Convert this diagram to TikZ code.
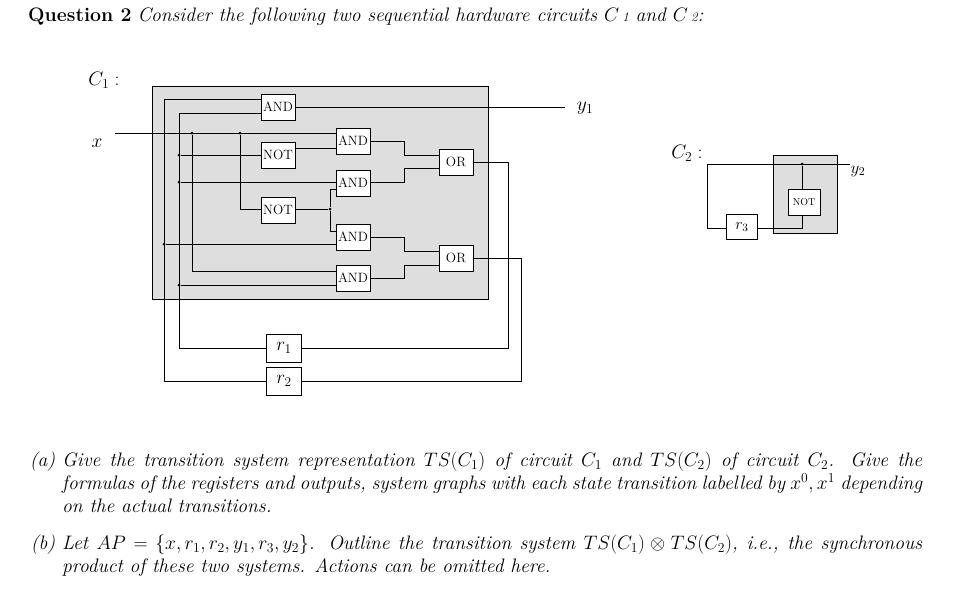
\RequirePackage{fix-cm}
\documentclass[tikz,border=0pt]{standalone}
\usepackage{amsmath,amssymb}
\begin{document}
\begin{tikzpicture}[x=1pt,y=-1pt,
 gate/.style={draw,fill=white,inner sep=0pt,minimum width=34pt,minimum height=26pt,font=\fontsize{13.5}{14}\selectfont},
 reg/.style={draw,fill=white,inner sep=0pt,minimum width=35pt,minimum height=28pt,font=\fontsize{19}{20}\selectfont},
 w/.style={draw,line width=0.6pt},
 dot/.style={circle,fill,inner sep=0pt,minimum size=3pt},
 para/.style={anchor=north west,text width=860pt,align=justify,font=\fontsize{19.5}{23}\selectfont\itshape}]
\useasboundingbox (0,0) rectangle (963,592);
\node[anchor=west,font=\fontsize{19.5}{22}\selectfont,inner sep=0pt] (title) at (28,17) {\textbf{Question 2} \textit{Consider the following two sequential hardware circuits $C$\,{\fontsize{13}{14}\selectfont 1} and $C$\,{\fontsize{13}{14}\selectfont 2}:}};
% C1
\node[font=\fontsize{19.5}{22}\selectfont] (c1) at (104,80) {$C_1:$};
\node[draw,fill=black!13,minimum width=336pt,minimum height=213pt,inner sep=0pt] (box1) at (320,192.5) {};
\node[font=\fontsize{19.5}{22}\selectfont] (x) at (97,143) {$x$};
\node[gate] (and1) at (278,107) {AND};
\node[gate] (not1) at (278,155) {NOT};
\node[gate] (not2) at (278,210) {NOT};
\node[gate] (and2) at (353,141) {AND};
\node[gate] (and3) at (353,183) {AND};
\node[gate] (and4) at (353,237) {AND};
\node[gate] (and5) at (353,278) {AND};
\node[gate] (or1) at (456,162) {OR};
\node[gate] (or2) at (456,258) {OR};
\node[reg] (r1) at (284,348) {$r_1$};
\node[reg] (r2) at (284,381) {$r_2$};
\node[font=\fontsize{19.5}{22}\selectfont] (y1) at (585,108) {$y_1$};
\coordinate (xs) at (115,133);
\node[dot] (d1) at (192,133) {};
\node[dot] (d2) at (240,133) {};
\node[dot] (d3) at (179,155) {};
\node[dot] (d4) at (179,182) {};
\node[dot] (d5) at (179,285) {};
\node[dot] (d6) at (164,244) {};
\node[dot] (d7) at (330,209) {};
% wires
\draw[w] (xs) -- (337,133);
\draw[w] (and1.east) -- (565,107);
\draw[w] (d1) -- (192,271) -- (337,271);
\draw[w] (d2) -- (240,209) -- (not2.west |- 0,209);
\draw[w] (not1.west |- 0,155) -- (d3);
\draw[w] (not1.east |- 0,148) -- (337,148);
\draw[w] (d4) -- (337,182);
\draw[w] (d5) -- (337,285);
\draw[w] (d6) -- (337,244);
\draw[w] (not2.east |- 0,209) -- (d7);
\draw[w] (337,189) -- (330,189) -- (d7) -- (330,231) -- (337,231);
\draw[w] (and2.east) -- (404,141) -- (404,155) -- (439,155);
\draw[w] (and3.east |- 0,182) -- (404,182) -- (404,168) -- (439,168);
\draw[w] (and4.east) -- (404,237) -- (404,251) -- (439,251);
\draw[w] (and5.east) -- (404,278) -- (404,265) -- (439,265);
\draw[w] (or1.east) -- (508,162) -- (508,348) -- (r1.east);
\draw[w] (or2.east) -- (521,258) -- (521,381) -- (r2.east);
\draw[w] (r1.west) -- (179,348) -- (179,113) -- (261,113);
\draw[w] (r2.west) -- (164,381) -- (164,99) -- (261,99);
% C2
\node[font=\fontsize{19.5}{22}\selectfont] (c2) at (687,153) {$C_2:$};
\node[draw,fill=black!13,minimum width=64pt,minimum height=78pt,inner sep=0pt] (box2) at (805,194) {};
\node[gate,minimum width=32pt,minimum height=26pt,font=\fontsize{10}{11}\selectfont] (not3) at (804,202) {NOT};
\node[reg,minimum width=31pt,minimum height=25pt,font=\fontsize{16}{17}\selectfont] (r3) at (742,227) {$r_3$};
\node[dot] (d8) at (802,164) {};
\node[font=\fontsize{17}{18}\selectfont] (y2) at (858,171) {$y_2$};
\draw[w] (707,164) -- (850,164);
\draw[w] (d8) -- (802,189);
\draw[w] (802,215) -- (802,228) -- (r3.east |- 0,228);
\draw[w] (r3.west |- 0,228) -- (707,228) -- (707,164);
% text
\node[para,inner sep=0pt] (qa) at (62,452) {\makebox[0pt][r]{(a)\hspace{7pt}}Give the transition system representation $TS(C_1)$ of circuit $C_1$ and $TS(C_2)$ of circuit $C_2$. Give the formulas of the registers and outputs, system graphs with each state transition labelled by $x^0,x^1$ depending on the actual transitions.};
\node[para,inner sep=0pt] (qb) at (62,535) {\makebox[0pt][r]{(b)\hspace{7pt}}Let $AP=\{x,r_1,r_2,y_1,r_3,y_2\}$. Outline the transition system $TS(C_1)\otimes TS(C_2)$, i.e., the synchronous product of these two systems. Actions can be omitted here.};
\end{tikzpicture}
\end{document}
